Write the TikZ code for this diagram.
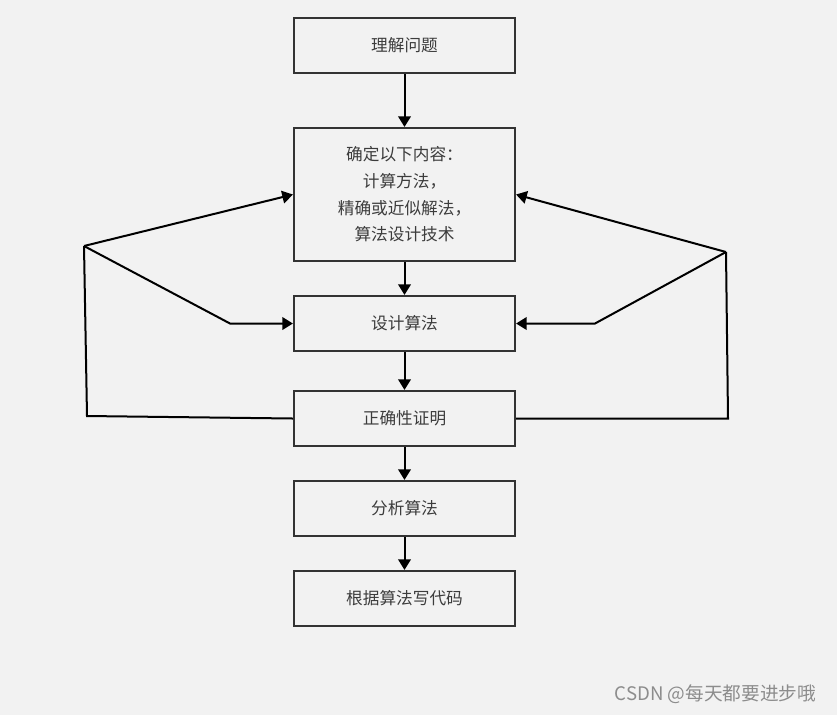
\documentclass[tikz,border=0pt]{standalone}
\usepackage{fontspec}
\newfontfamily\cjk{Noto Sans CJK SC}
\usetikzlibrary{arrows.meta,positioning}
\definecolor{grund}{HTML}{F2F2F2}
\definecolor{rand}{HTML}{333333}
\definecolor{schrift}{HTML}{3C3C3C}

\begin{document}
\begin{tikzpicture}[
      x=0.75pt, y=-0.75pt,
      kasten/.style={draw=rand, line width=1.6pt, fill=grund, text=schrift,
        minimum width=165.75pt, minimum height=41.25pt, inner sep=0pt,
        font=\cjk\fontsize{12.5pt}{20pt}\selectfont, align=center},
      pfeil/.style={-{Triangle[length=8pt,width=9.5pt]}, black, line width=1.5pt},
      linie/.style={black, line width=1.5pt},
      marke/.style={font=\cjk\fontsize{14pt}{16pt}\selectfont, text=black!45}
    ]
    % Hintergrund in der Groesse des Bildes
    \fill[grund] (0,0) rectangle (837,715);
    \useasboundingbox (0,0) rectangle (837,715);

    % ---------- Kaesten von oben nach unten ----------
    \node[kasten] (verstehen) at (404.5,45.5) {理解问题};
    \node[kasten, minimum height=99.75pt] (festlegen) at (404.5,194.5)
      {确定以下内容：\\计算方法，\\精确或近似解法，\\算法设计技术};
    \node[kasten] (entwurf)   at (404.5,323.5) {设计算法};
    \node[kasten] (beweis)    at (404.5,418.5) {正确性证明};
    \node[kasten] (analyse)   at (404.5,508.5) {分析算法};
    \node[kasten] (kodieren)  at (404.5,598.5) {根据算法写代码};

    % ---------- Pfeile in der Mitte ----------
    \draw[pfeil] (verstehen) -- (festlegen);
    \draw[pfeil] (festlegen) -- (entwurf);
    \draw[pfeil] (entwurf)   -- (beweis);
    \draw[pfeil] (beweis)    -- (analyse);
    \draw[pfeil] (analyse)   -- (kodieren);

    % ---------- Rueckfuehrung links ----------
    \coordinate (linksoben)  at (84,246);
    \coordinate (linksknick) at (230,323.5);
    \coordinate (linksunten) at (87,416);
    \draw[linie] (beweis.west) -- (linksunten) -- (linksoben);
    \draw[pfeil] (linksoben) -- (festlegen.west);
    \draw[pfeil] (linksoben) -- (linksknick) -- (entwurf.west);

    % ---------- Rueckfuehrung rechts ----------
    \coordinate (rechtsoben)  at (726,252);
    \coordinate (rechtsknick) at (595,323.5);
    \coordinate (rechtsunten) at (728,418.5);
    \draw[linie] (beweis.east) -- (rechtsunten) -- (rechtsoben);
    \draw[pfeil] (rechtsoben) -- (festlegen.east);
    \draw[pfeil] (rechtsoben) -- (rechtsknick) -- (entwurf.east);

    % Wasserzeichen
    \node[marke, anchor=east] (quelle) at (821,694) {CSDN @每天都要进步哦};
  \end{tikzpicture}
\end{document}
